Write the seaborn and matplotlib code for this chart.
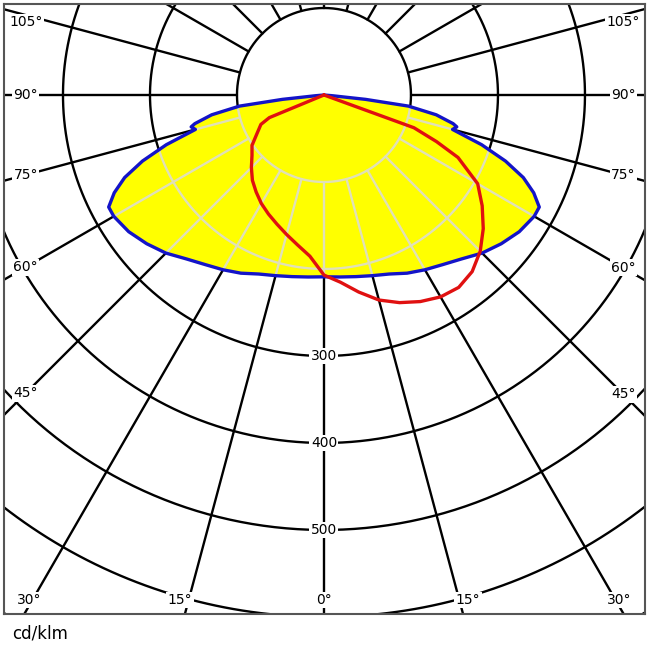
import numpy as np
import matplotlib
matplotlib.use("Agg")
import matplotlib.pyplot as plt
import seaborn as sns
import pandas as pd

# %% photometric data (cd/klm), gamma measured from nadir
# C0-C180 plane, symmetric -> one half, mirrored below
blue_gamma = [0, 5, 10, 15, 20, 25, 30, 35, 40, 45, 50, 55, 60, 62.5, 65,
              67.5, 70, 72.5, 75, 76.5, 77.5, 80, 82.5, 84, 85, 90]
blue_cd = [209, 210, 212, 215, 219, 226, 232, 238, 246, 257, 266, 274, 279, 279, 266,
           248, 222, 190, 153, 157, 152, 131, 98, 48, 10, 0]

# C90-C270 plane, asymmetric
red_gamma = [-90, -70, -67.5, -65, -60, -55, -50, -45, -40, -35, -30, -25, -20, -15,
             -10, -5, 0, 5, 10, 15, 20, 25, 30, 35, 40, 45, 50, 55, 60, 65, 67.5,
             70, 75, 90]
red_cd = [0, 0, 68, 80, 89, 101, 108, 118, 128, 136, 144, 151, 158, 166,
          175, 186, 207, 216, 230, 244, 254, 262, 268, 270, 265, 254, 239, 222, 204, 170, 140,
          110, 0, 0]

ring_values = [100, 200, 300, 400, 500, 600, 700, 800]
ring_labels = [300, 400, 500]
side_angles = [45, 60, 75, 90, 105]
bottom_angles = [0, 15, 30]


def to_xy(gamma, r):
    g = np.radians(np.asarray(gamma, dtype=float))
    r = np.asarray(r, dtype=float)
    return r * np.sin(g), -r * np.cos(g)


# %% build curves
bg = np.array(blue_gamma)
bc = np.array(blue_cd)
blue_full_g = np.concatenate([-bg[::-1], bg[1:]])
blue_full_r = np.concatenate([bc[::-1], bc[1:]])
bx, by = to_xy(blue_full_g, blue_full_r)
rx, ry = to_xy(red_gamma, red_cd)
blue_df = pd.DataFrame({"x": bx, "y": by})
red_df = pd.DataFrame({"x": rx, "y": ry})

# %% figure
sns.set_style("white")
plt.rcParams["font.family"] = ["DejaVu Sans"]
plt.rcParams["text.color"] = "black"
fig = plt.figure(figsize=(6.5, 6.5), dpi=100)
ax = fig.add_axes([4 / 650, 36 / 650, 641 / 650, 610 / 650])
xmin, xmax, ymin, ymax = -367.8, 369.0, -596.6, 104.6
ax.set_xticks([])
ax.set_yticks([])
for s in ax.spines.values():
    s.set_color("#555555")
    s.set_linewidth(1.5)


def draw_grid(color, z, clip=None):
    lines = []
    t = np.linspace(0, 2 * np.pi, 721)
    for rv in ring_values:
        lines += ax.plot(rv * np.sin(t), rv * np.cos(t), color=color, lw=1.7, zorder=z)
    for a in range(0, 360, 15):
        sx, sy = to_xy([a, a], [100, 1200])
        lines += ax.plot(sx, sy, color=color, lw=1.7, zorder=z)
    if clip is not None:
        for ln in lines:
            ln.set_clip_path(clip)


draw_grid("black", 1)
fill = ax.fill(bx, by, color="#ffff00", zorder=2, lw=0)[0]
draw_grid("#e0e0b8", 3, clip=fill)

sns.lineplot(data=blue_df, x="x", y="y", sort=False, estimator=None,
             color="#1414c8", lw=2.4, ax=ax, zorder=4)
sns.lineplot(data=red_df, x="x", y="y", sort=False, estimator=None,
             color="#e01010", lw=2.4, ax=ax, zorder=5)
ax.set_xlabel("")
ax.set_ylabel("")
ax.set_xlim(xmin, xmax)
ax.set_ylim(ymin, ymax)

box = dict(facecolor="white", edgecolor="none", pad=1.0)

# ring value labels
for v in ring_labels:
    ax.text(0, -v, str(v), ha="center", va="center", fontsize=10, color="black",
            bbox=box, zorder=6)

# angle labels on the sides
inset_x = 25
for a in side_angles:
    for side in (-1, 1):
        x = xmax - inset_x if side > 0 else xmin + inset_x
        y = -abs(x) / np.tan(np.radians(a))
        y = min(y, ymax - 21)
        ax.text(x, y, f"{a}°", ha="center", va="center", fontsize=10, color="black",
                bbox=box, zorder=6)

# angle labels at the bottom
yb = ymin + 16
for a in bottom_angles:
    for side in ((1,) if a == 0 else (-1, 1)):
        x = side * (abs(yb) * np.tan(np.radians(a)) + 10 * (a == 15) + 4 * (a == 30))
        ax.text(x, yb, f"{a}°", ha="center", va="center", fontsize=10, color="black",
                bbox=box, zorder=6)

fig.text(12 / 650, 1 - 634 / 650, "cd/klm", ha="left", va="center", fontsize=12,
         color="black")

fig.savefig("out.png", dpi=100)
